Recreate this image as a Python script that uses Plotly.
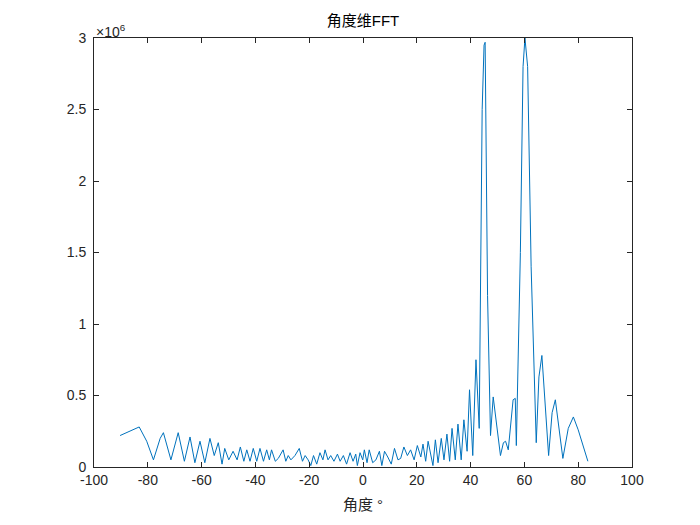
import plotly.graph_objects as go

# angle (deg) and FFT magnitude (x1e6)
angle = [-90.3, -83.2, -80.4, -77.9, -75.4, -74.2, -71.4, -68.7, -66.4, -64.3, -62.5, -60.6,
         -58.8, -56.9, -55.3, -53.8, -52.4, -51.4, -49.9, -48.3, -46.8, -45.6, -44.3, -43.2,
         -42.0, -40.8, -39.5, -38.3, -37.0, -35.8, -34.8, -34.0, -32.6, -31.5, -29.7, -28.7,
         -27.8, -26.8, -25.3, -23.7, -22.5, -21.5, -20.4, -19.4, -18.4, -17.2, -16.0, -14.9,
         -14.1, -13.0, -12.0, -10.8, -9.5, -8.5, -7.3, -6.1, -4.8, -3.7, -2.7, -2.1,
         -1.1, -0.1, 0.5, 1.5, 2.3, 3.6, 4.8, 6.1, 7.0, 8.0, 9.2, 10.5,
         11.7, 13.0, 14.0, 15.2, 16.5, 17.7, 19.0, 20.2, 21.5, 22.3, 23.3, 24.2,
         26.0, 26.9, 27.9, 29.1, 30.1, 31.2, 32.2, 33.1, 34.3, 35.3, 36.5, 37.5,
         38.7, 39.6, 40.8, 42.0, 43.2, 44.3, 45.0, 45.4, 46.3, 47.4, 48.4, 49.2,
         51.1, 52.2, 53.0, 54.0, 55.8, 56.6, 57.0, 58.5, 59.5, 60.2, 61.2, 62.5,
         64.4, 65.4, 66.5, 69.0, 70.3, 71.5, 74.3, 76.3, 78.2, 80.0, 83.6]
magnitude = [0.22, 0.28, 0.18, 0.05, 0.20, 0.24, 0.05, 0.24, 0.04, 0.21, 0.03, 0.18,
             0.03, 0.20, 0.08, 0.17, 0.02, 0.13, 0.05, 0.11, 0.05, 0.14, 0.04, 0.12,
             0.04, 0.13, 0.04, 0.13, 0.04, 0.12, 0.05, 0.12, 0.04, 0.06, 0.12, 0.04,
             0.08, 0.05, 0.08, 0.13, 0.04, 0.08, 0.05, 0.01, 0.08, 0.02, 0.10, 0.05,
             0.12, 0.05, 0.08, 0.04, 0.09, 0.04, 0.08, 0.02, 0.10, 0.04, 0.09, 0.01,
             0.10, 0.05, 0.12, 0.03, 0.12, 0.03, 0.05, 0.11, 0.01, 0.11, 0.07, 0.02,
             0.13, 0.05, 0.06, 0.14, 0.08, 0.12, 0.05, 0.15, 0.07, 0.16, 0.04, 0.18,
             0.01, 0.19, 0.03, 0.20, 0.05, 0.23, 0.04, 0.27, 0.05, 0.30, 0.05, 0.33,
             0.11, 0.54, 0.08, 0.75, 0.27, 2.50, 2.95, 2.97, 1.20, 0.22, 0.49, 0.38,
             0.08, 0.17, 0.18, 0.12, 0.47, 0.48, 0.15, 1.50, 2.80, 3.00, 2.80, 1.40,
             0.17, 0.63, 0.78, 0.08, 0.38, 0.47, 0.06, 0.27, 0.35, 0.26, 0.04]
x_ticks = [-100, -80, -60, -40, -20, 0, 20, 40, 60, 80, 100]
y_ticks = [0, 0.5, 1, 1.5, 2, 2.5, 3]

fig = go.Figure()
fig.add_trace(go.Scatter(x=angle, y=magnitude, mode="lines",
                         line=dict(color="#0072BD", width=1), showlegend=False))

axis_common = dict(showline=True, linecolor="#262626", linewidth=1, mirror="ticks",
                   ticks="inside", ticklen=5, tickcolor="#262626", showgrid=False,
                   zeroline=False, tickfont=dict(size=14, color="#262626"))
fig.update_xaxes(range=[-100, 100], tickvals=x_ticks, ticktext=[str(v) for v in x_ticks],
                 title=dict(text="角度 °", standoff=12, font=dict(size=15, color="#262626")),
                 **axis_common)
fig.update_yaxes(range=[0, 3], tickvals=y_ticks,
                 ticktext=[f"{v:g} " for v in y_ticks], **axis_common)

fig.add_annotation(x=0, y=1, xref="paper", yref="paper", xanchor="left", yanchor="bottom",
                   text="×10<sup>6</sup>", showarrow=False, font=dict(size=14, color="#262626"),
                   yshift=-4)

fig.update_layout(
    width=700, height=525,
    margin=dict(l=86, r=76, t=30, b=66, autoexpand=False),
    title=dict(text="角度维FFT", x=0.5, xref="paper", y=0.975, yanchor="middle",
               font=dict(size=15, color="#000000")),
    font=dict(family="Liberation Sans, Noto Sans CJK SC"),
    plot_bgcolor="white", paper_bgcolor="white",
)

fig.write_html("out.html")
